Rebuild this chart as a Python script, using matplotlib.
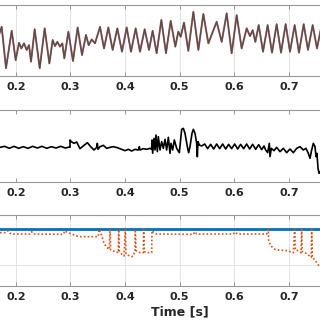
import matplotlib
matplotlib.use("Agg")
import matplotlib.pyplot as plt

# ---------------- data ----------------
xtick_vals = [0.2, 0.3, 0.4, 0.5, 0.6, 0.7]
xtick_labels = ["0.2", "0.3", "0.4", "0.5", "0.6", "0.7"]

# panel 1: oscillating signal (extrema)
t1 = [0.1700, 0.1741, 0.1820, 0.1924, 0.1997, 0.2058, 0.2101, 0.2150, 0.2198, 0.2241,
      0.2278, 0.2345, 0.2437, 0.2528, 0.2614, 0.2675, 0.2717, 0.2760, 0.2809, 0.2852,
      0.2888, 0.2962, 0.3047, 0.3132, 0.3212, 0.3285, 0.3334, 0.3389, 0.3450, 0.3542,
      0.3615, 0.3694, 0.3773, 0.3859, 0.3944, 0.4030, 0.4109, 0.4195, 0.4274, 0.4360,
      0.4439, 0.4506, 0.4579, 0.4665, 0.4750, 0.4836, 0.4921, 0.4976, 0.5019, 0.5080,
      0.5159, 0.5251, 0.5343, 0.5434, 0.5526, 0.5678, 0.5770, 0.5862, 0.5953, 0.6045,
      0.6136, 0.6228, 0.6289, 0.6338, 0.6387, 0.6448, 0.6527, 0.6612, 0.6692, 0.6777,
      0.6857, 0.6942, 0.7021, 0.7107, 0.7186, 0.7272, 0.7351, 0.7437, 0.7516, 0.7589]
v1 = [0.22, 0.44, -0.94, 0.31, -0.67, -0.09, -0.28, -0.11, -0.33, -0.17,
      -0.72, 0.36, -0.94, 0.39, -0.78, 0.00, -0.20, -0.06, -0.22, -0.11,
      -0.61, 0.28, -0.70, 0.42, -0.50, 0.17, -0.17, 0.02, -0.11, 0.44,
      -0.28, 0.42, -0.33, 0.39, -0.39, 0.42, -0.39, 0.39, -0.39, 0.36,
      -0.33, 0.31, -0.44, 0.67, -0.44, 0.64, -0.22, 0.28, 0.11, 0.58,
      -0.36, 0.94, -0.33, 0.87, -0.11, 0.61, -0.06, 0.89, -0.44, 0.83,
      -0.28, 0.39, 0.13, 0.33, -0.06, 0.50, -0.39, 0.50, -0.42, 0.53,
      -0.42, 0.53, -0.39, 0.50, -0.42, 0.53, -0.33, 0.50, -0.28, 0.39]

# panel 2: black signal (zoom-pixel x, zoom-pixel y) -> converted below
p2_x = [0, 14, 28, 42, 56, 70, 84, 98, 112, 126, 140, 154, 168, 182, 196, 208,
        210, 210, 214, 222, 230, 240, 250, 262, 272, 282, 290, 292, 294, 300, 310, 320, 330,
        340, 352, 362, 375, 385, 395, 405, 415, 418, 420, 430, 440, 450, 455,
        456, 458, 462, 465, 468, 472, 475, 480, 485, 490, 495, 500, 505, 510, 513, 518, 523,
        530, 538, 545, 550, 555, 562, 566, 570, 576, 580, 585, 590, 592, 594, 598,
        605, 614, 623, 632, 641, 650, 659, 668, 677, 686, 695, 704, 713, 722, 731, 740,
        749, 758, 767, 776, 785, 792, 797, 803, 806, 808, 810, 814, 822, 830, 840, 850,
        860, 870, 880, 890, 900, 910, 918, 925, 930, 935, 940, 945, 948, 951, 954, 957, 960, 965]
p2_y = [142, 139, 145, 139, 145, 140, 145, 139, 144, 139, 145, 140, 144, 139, 144, 141,
        142, 120, 125, 130, 126, 146, 138, 128, 140, 150, 142, 130, 148, 140, 136, 145, 142,
        140, 143, 147, 152, 148, 153, 148, 150, 140, 150, 146, 148, 145, 148,
        120, 160, 115, 150, 105, 155, 110, 150, 125, 145, 118, 150, 112, 160, 130, 150, 120,
        145, 158, 88, 85, 100, 140, 158, 140, 100, 88, 100, 130, 170, 125, 135,
        138, 132, 146, 133, 147, 132, 146, 132, 147, 133, 146, 132, 147, 133, 146, 132,
        147, 133, 148, 134, 149, 138, 150, 158, 142, 130, 170, 145, 152, 142, 155, 145,
        158, 147, 158, 145, 140, 150, 145, 160, 175, 150, 130, 140, 170, 160, 205, 220, 215, 225]

# panel 3: blue reference level and orange dotted signal
blue_level = 1.0
p3_x = [0, 15, 20, 25, 30, 40, 90, 95, 100, 190, 195, 200, 215, 230, 240, 295,
        297, 300, 306, 312, 320, 328, 330, 332, 345, 355, 356, 358, 365, 372, 376, 378,
        385, 395, 400, 405, 406, 408, 420, 430, 431, 433, 445, 455, 456, 462, 470,
        580, 585, 590, 700, 705, 712, 800, 805, 806, 815, 825, 835, 860, 880, 884,
        886, 895, 903, 905, 907, 915, 925, 934, 935, 937, 945, 955, 965]
p3_y = [68, 68, 66, 62, 70, 72, 72, 65, 72, 73, 62, 66, 72, 78, 80, 80,
        58, 62, 80, 100, 112, 118, 58, 120, 125, 128, 58, 125, 132, 138, 58, 132,
        136, 140, 138, 120, 58, 122, 128, 128, 58, 125, 128, 128, 62, 68, 72,
        73, 65, 72, 72, 66, 72, 72, 58, 95, 110, 118, 120, 122, 128, 58,
        120, 122, 128, 58, 125, 128, 135, 142, 58, 142, 150, 165, 172]

# ---------------- conversion of read positions to data units ----------------
def px_to_t(zx):
    return 0.171 + zx / 1638.0

t2 = [px_to_t(x) for x in p2_x]
v2 = [(142 - y) / 40.0 for y in p2_y]
t3 = [px_to_t(x) for x in p3_x]
v3 = [(165 - y) / 107.0 for y in p3_y]

# ---------------- figure ----------------
W = 320.0
fig = plt.figure(figsize=(3.2, 3.2), dpi=100)
xmin_px, xmax_px = -20.0, 340.0
xlim = (0.171 + xmin_px / 546.0, 0.171 + xmax_px / 546.0)
left = xmin_px / W
width = (xmax_px - xmin_px) / W

def make_ax(top_px, bot_px):
    ax = fig.add_axes([left, 1 - bot_px / W, width, (bot_px - top_px) / W])
    ax.set_xticks(xtick_vals)
    ax.set_xticklabels(xtick_labels, fontsize=8, fontweight="bold", color="#262626")
    ax.set_xlim(*xlim)
    ax.tick_params(axis="x", direction="in", top=True, length=3, width=0.6,
                   color="#888888", pad=4)
    ax.tick_params(axis="y", direction="in", right=True, length=3, width=0.6,
                   color="#888888", labelleft=False)
    for s in ax.spines.values():
        s.set_color("#999999")
        s.set_linewidth(0.8)
    return ax

ax1 = make_ax(5, 76)
ax1.set_yticks([])
ax1.set_ylim(-1.2, 1.17)
ax1.grid(True, axis="x", color="#e3e3e3", linewidth=0.7)
ax1.set_axisbelow(True)
ax1.plot(t1, v1, color="#b86060", linewidth=1.4, solid_joinstyle="round")
ax1.plot(t1, v1, color="#505050", linewidth=0.9, solid_joinstyle="round")

ax2 = make_ax(110, 182)
ax2.set_yticks([])
ax2.set_ylim((142 - 246) / 40.0, (142 - 30) / 40.0)
ax2.plot(t2, v2, color="black", linewidth=1.2)

ax3 = make_ax(215, 286)
ax3.set_yticks([0, 1])
ax3.set_ylim((165 - 228) / 107.0, (165 - 15) / 107.0)
ax3.grid(True, color="#e3e3e3", linewidth=0.7)
ax3.set_axisbelow(True)
ax3.axhline(blue_level, color="#0072BD", linewidth=2.0)
ax3.plot(t3, v3, color="#D95319", linewidth=1.2, linestyle=(0, (1, 1.3)))
ax3.set_xlabel("Time [s]", fontsize=9, fontweight="bold", color="#262626")
ax3.xaxis.set_label_coords((0.5 - xlim[0]) / (xlim[1] - xlim[0]), -0.27)

fig.savefig("out.png", dpi=100)
